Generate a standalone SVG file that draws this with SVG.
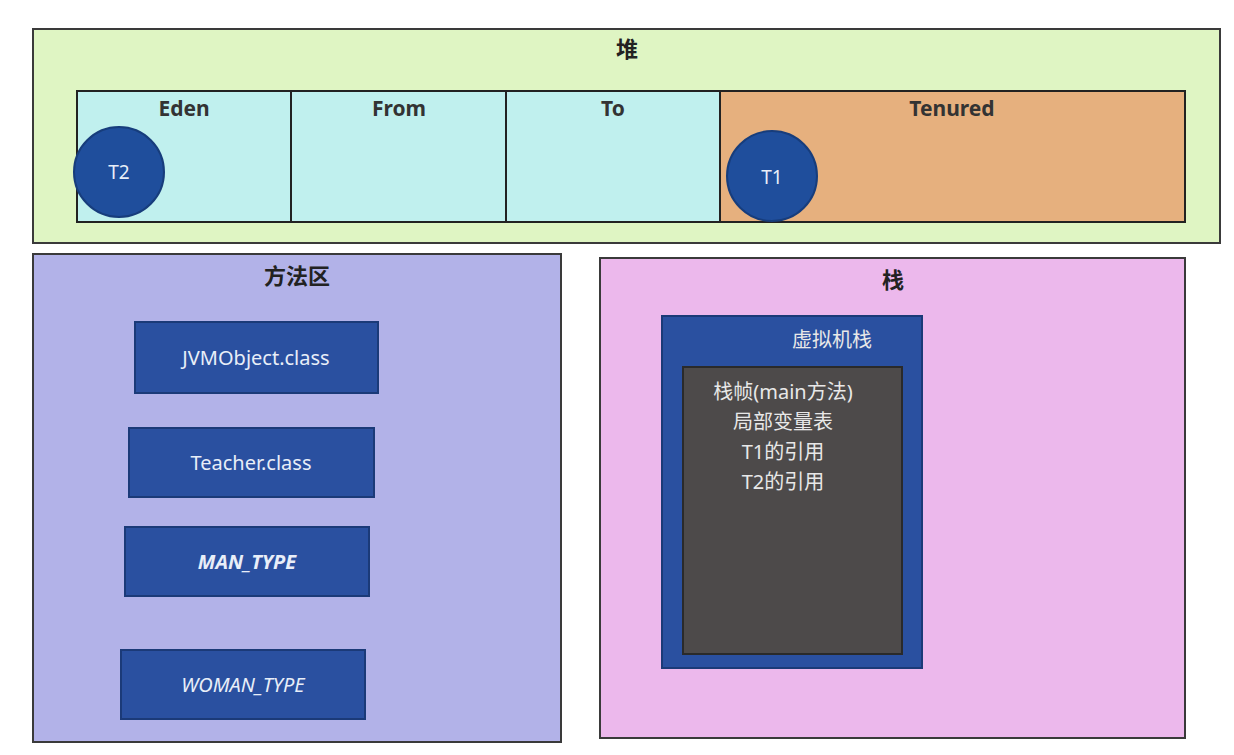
<svg xmlns="http://www.w3.org/2000/svg" width="1234" height="755" viewBox="0 0 1234 755">
<style>
text{font-family:"Noto Sans","Noto Sans CJK SC",sans-serif}
.area{stroke:#3a3a3a;stroke-width:2}
.title{font-size:22px;font-weight:bold;fill:#222;text-anchor:middle}
.gen{stroke:#222;stroke-width:2}
.gl{font-size:21px;font-weight:bold;fill:#333;text-anchor:middle}
.circ{fill:#1f4e9c;stroke:#173d7c;stroke-width:2}
.ct{font-size:19px;fill:#e8eef8;text-anchor:middle}
.cls{fill:#2a50a0;stroke:#1b3a78;stroke-width:2}
.clt{font-size:20px;fill:#e8eef8;text-anchor:middle}
.st{font-size:20px;fill:#e8e8e8;text-anchor:middle}
</style>
<rect width="1234" height="755" fill="#fff"/>
<g id="heap">
<rect class="area" x="33" y="29" width="1187" height="214" fill="#dff5c3"/>
<text class="title" x="627" y="57">堆</text>
</g>
<g id="eden"><rect class="gen" x="77" y="91" width="214" height="131" fill="#c0f0ee"/><text class="gl" x="184" y="116">Eden</text></g>
<g id="from"><rect class="gen" x="291" y="91" width="215" height="131" fill="#c0f0ee"/><text class="gl" x="399" y="116">From</text></g>
<g id="to"><rect class="gen" x="506" y="91" width="214" height="131" fill="#c0f0ee"/><text class="gl" x="613" y="116">To</text></g>
<g id="tenured"><rect class="gen" x="720" y="91" width="465" height="131" fill="#e6b07e"/><text class="gl" x="952" y="116">Tenured</text></g>
<g id="t2"><circle class="circ" cx="119" cy="172" r="45"/><text class="ct" x="119" y="179">T2</text></g>
<g id="t1"><circle class="circ" cx="772" cy="176" r="45"/><text class="ct" x="772" y="184">T1</text></g>
<g id="method">
<rect class="area" x="33" y="254" width="528" height="488" fill="#b2b2e8"/>
<text class="title" x="297" y="284">方法区</text>
</g>
<g id="jvmobject"><rect class="cls" x="135" y="322" width="243" height="71"/><text class="clt" x="256" y="365">JVMObject.class</text></g>
<g id="teacher"><rect class="cls" x="129" y="428" width="245" height="69"/><text class="clt" x="251" y="470">Teacher.class</text></g>
<g id="man"><rect class="cls" x="125" y="527" width="244" height="69"/><text class="clt" x="247" y="569" font-style="italic" font-weight="bold">MAN_TYPE</text></g>
<g id="woman"><rect class="cls" x="121" y="650" width="244" height="69"/><text class="clt" x="243" y="692" font-style="italic" fill="#c8d4ee">WOMAN_TYPE</text></g>
<g id="stack">
<rect class="area" x="600" y="258" width="585" height="480" fill="#ecb8ec"/>
<text class="title" x="893" y="288">栈</text>
</g>
<g id="vmstack"><rect class="cls" x="662" y="316" width="260" height="352"/><text class="st" x="832" y="347">虚拟机栈</text></g>
<g id="frame">
<rect x="683" y="367" width="219" height="287" fill="#4d4a4a" stroke="#2a2a2a" stroke-width="2"/>
<text class="st" x="783" y="399">栈帧(main方法)</text>
<text class="st" x="783" y="429">局部变量表</text>
<text class="st" x="783" y="459">T1的引用</text>
<text class="st" x="783" y="489">T2的引用</text>
</g>
<g id="connectors"/>
</svg>
